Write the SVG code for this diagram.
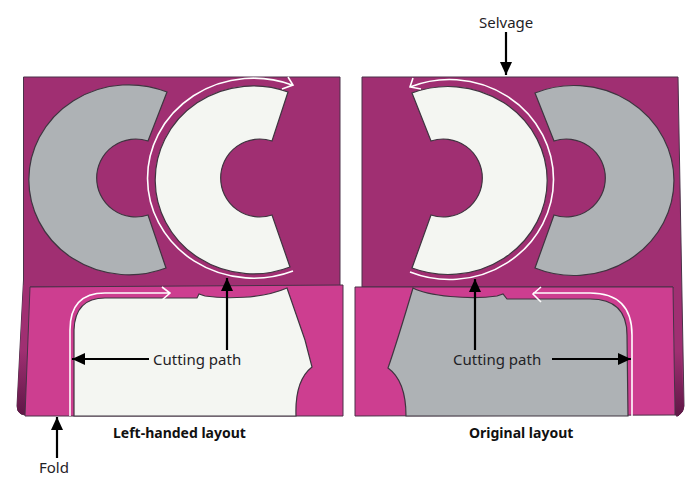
<svg xmlns="http://www.w3.org/2000/svg" width="700" height="490" viewBox="0 0 700 490">
<style>
.sheet{fill:#A02F72;stroke:#4a3148;stroke-width:1}
.panel{fill:#CD3E90;stroke:#4a3148;stroke-width:1}
.cut{fill:#F4F6F2;stroke:#3f3540;stroke-width:1.2}
.spare{fill:#AEB2B5;stroke:#3f3540;stroke-width:1.2}
.path{fill:none;stroke:#fff;stroke-width:1.6;stroke-linejoin:miter}
.lead{fill:none;stroke:#000;stroke-width:2.2;marker-end:url(#head)}
text{font-family:"Noto Sans","Open Sans",sans-serif;font-size:15px;fill:#1f2226}
.b{font-weight:700;font-size:14px;fill:#111}
</style>
<defs>
<marker id="head" markerUnits="userSpaceOnUse" markerWidth="14" markerHeight="12" refX="13" refY="6" orient="auto">
<path d="M0,0L13,6L0,12Z" fill="#000"/>
</marker>
<linearGradient id="wedgeL" x1="0" y1="0" x2="0" y2="1"><stop offset="0" stop-color="#A02F72"/><stop offset="0.5" stop-color="#A02F72"/><stop offset="1" stop-color="#5f1746"/></linearGradient>
</defs>
<rect width="700" height="490" fill="#fff"/>
<g id="left-layout">
<path class="sheet" d="M23.5,77H340V287H30L25,415L21,414Q17,412 17,406L23.5,280Z"/>
<path d="M30,287L25,415L21,414Q17,412 17,406L23.5,285Z" fill="url(#wedgeL)"/>
<path class="panel" d="M30,287L343,285V416H25Z"/>
<path id="left-spare-ring" class="spare" d="M167,92L148,141A39,39 0 1 0 148,215L166,268A100,95 0 1 1 167,92Z"/>
<path id="left-cut-ring" class="cut" d="M288,92L272,141A39,39 0 1 0 272,215L290,267A98,94 0 1 1 288,92Z"/>
<path id="left-cut-body" class="cut" d="M287,288L305,340L312,367C303,374 295,388 296,416H74V330Q75,298 105,298H193L197,298L199,294L205,296C225,299 262,299 287,288Z"/>
</g>
<g id="right-layout">
<path class="sheet" d="M362,77H678L684,406Q684,412 678,416H676L673,287H362Z"/>
<path d="M673,287L678,300L684,406Q684,412 678,416L675,415Z" fill="url(#wedgeL)"/>
<path class="panel" d="M355,287H673L675,415L355,416Z"/>
<path id="right-spare-ring" class="spare" d="M535,93L554,141A39,39 0 1 1 554,215L535,268A100,95 0 1 0 535,93Z"/>
<path id="right-cut-ring" class="cut" d="M412,93L431,141A39,39 0 1 1 431,215L412,268A99,94 0 1 0 412,93Z"/>
<path id="right-cut-body" class="spare" d="M413,288C428,296 470,300 497,296L503,294L507,299H590Q627,299 627,335L628,416H406C406,395 402,378 388,368C396,345 405,315 413,288Z"/>
</g>
<g id="connectors">
<path class="path" d="M293,271A106,100 0 1 1 292,85M288,77L293,85L282,89"/>
<path class="path" d="M70,416V330Q70,293 105,293H170M162,287L170,293L162,300"/>
<path class="path" d="M410,272A104,100 0 1 0 410,87M413,78L410,87L421,89"/>
<path class="path" d="M632,416V335Q632,293 590,293H533M541,287L533,294L541,302"/>
<path class="lead" d="M506,32V75"/>
<path class="lead" d="M227,350V278"/>
<path class="lead" d="M149,359H72"/>
<path class="lead" d="M57,458V417"/>
<path class="lead" d="M475,350V279"/>
<path class="lead" d="M552,359H631"/>
</g>
<g id="labels">
<text x="479" y="28">Selvage</text>
<text x="153" y="365">Cutting path</text>
<text x="453" y="365">Cutting path</text>
<text x="39" y="473">Fold</text>
<text class="b" x="113" y="438">Left-handed layout</text>
<text class="b" x="469" y="438">Original layout</text>
</g>
</svg>
